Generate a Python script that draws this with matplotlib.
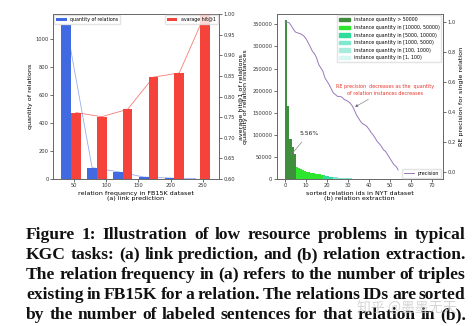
import numpy as np
import matplotlib
matplotlib.use("Agg")
import matplotlib.pyplot as plt
from matplotlib.patches import Patch

# ---------------- data ----------------
freq_groups = [46, 86, 126, 166, 206, 246]          # group centers (relation frequency)
relation_quantity = [1100, 81, 52, 14, 7, 3]
avg_hit1 = [0.761, 0.751, 0.769, 0.847, 0.857, 1.0]
freq_ticks = [50, 100, 150, 200, 250]

rel_counts = [360000, 165000, 90000, 72000, 56000,
              28000, 25000, 22500, 20500, 18500, 16800, 15200, 13800, 12600, 11800,
              11000, 10500, 10100,
              8000, 7000, 6200, 5500, 5100,
              4400, 3800, 3300, 2800, 2400, 2000, 1700, 1450, 1250, 1080,
              950, 850, 750, 650, 560, 480, 420, 360, 310, 270, 230, 200, 170, 150,
              130, 110, 95, 80, 60, 40, 20, 8]
precision = [1.0, 1.0, 0.995, 0.973, 0.95, 0.933, 0.928, 0.924, 0.917, 0.906,
             0.888, 0.861, 0.834, 0.805, 0.789, 0.76, 0.716, 0.694, 0.671, 0.626,
             0.604, 0.582, 0.553, 0.526, 0.515, 0.503, 0.503, 0.499, 0.485, 0.477,
             0.47, 0.459, 0.44, 0.414, 0.38, 0.358, 0.336, 0.32, 0.313, 0.302,
             0.284, 0.262, 0.246, 0.224, 0.201, 0.186, 0.168, 0.145, 0.134, 0.112,
             0.089, 0.067, 0.045, 0.034, 0.011]
bin_labels = ["instance quantity > 50000",
              "instance quantity in [10000, 50000)",
              "instance quantity in [5000, 10000)",
              "instance quantity in [1000, 5000)",
              "instance quantity in [100, 1000)",
              "instance quantity in [1, 100)"]
bin_lower = [50000, 10000, 5000, 1000, 100, 1]
bin_colors = ["#3e8e3e", "#2ee62e", "#2fdc9c", "#7fe8cf", "#a9ebdc", "#d6f7f2"]

caption_lines = [
    "Figure 1: Illustration of low resource problems in typical",
    "KGC tasks: (a) link prediction, and (b) relation extraction.",
    "The relation frequency in (a) refers to the number of triples",
    "existing in FB15K for a relation. The relations IDs are sorted",
    "by the number of labeled sentences for that relation in (b).",
]

W, H = 472, 326
fig = plt.figure(figsize=(W / 100, H / 100), dpi=100)

blue = "#4169e1"
red = "#f5433b"
spine_c = "#666666"
tick_fs = 3.7
lab_fs = 4.6
leg_fs = 3.4


def style(ax):
    for s in ax.spines.values():
        s.set_color(spine_c)
        s.set_linewidth(0.6)
    ax.tick_params(labelsize=tick_fs, length=2, width=0.5, pad=1.2, colors="#333333")


# ---------------- left panel ----------------
axL = fig.add_axes([53 / W, 1 - 179 / H, 166 / W, 165 / H])
axL2 = axL.twinx()
bw = 15
xg = np.array(freq_groups, dtype=float)
axL.bar(xg - bw / 2, relation_quantity, width=bw, color=blue, label="quantity of relations", zorder=2)
axL.plot(xg - bw / 2, relation_quantity, color=blue, lw=0.6, alpha=0.55, zorder=3)
axL2.bar(xg + bw / 2, avg_hit1, width=bw, color=red, label="avarage hit@1", zorder=2)
axL2.plot(xg + bw / 2, avg_hit1, color=red, lw=0.6, alpha=0.7, zorder=3)
axL.set_xlim(18, 275)
axL.set_ylim(0, 1176)
axL2.set_ylim(0.6, 1.0)
axL.set_xticks(freq_ticks)
axL.set_yticks([0, 200, 400, 600, 800, 1000])
axL2.set_yticks([0.6, 0.65, 0.7, 0.75, 0.8, 0.85, 0.9, 0.95, 1.0])
style(axL)
style(axL2)
axL.set_ylabel("quantity of relations", fontsize=lab_fs)
axL.yaxis.set_label_coords((33 - 53) / 166, 0.5)
axL2.set_ylabel("average hit@1 of relations", fontsize=lab_fs)
axL2.yaxis.set_label_coords((239.5 - 53) / 166, 0.5)
axL.set_xlabel("relation frequency in FB15K dataset\n(a) link prediction", fontsize=lab_fs,
               labelpad=1.5, linespacing=1.0)
axL.legend(loc="upper left", fontsize=leg_fs, frameon=True, handlelength=2.2,
           borderaxespad=0.3, edgecolor="#dddddd")
axL2.legend(loc="upper right", fontsize=leg_fs, frameon=True, handlelength=2.2,
            borderaxespad=0.3, edgecolor="#dddddd")

# ---------------- right panel ----------------
axR = fig.add_axes([276.7 / W, 1 - 179 / H, 166 / W, 165 / H])
axR2 = axR.twinx()
ids = np.arange(len(rel_counts))
cols = []
for c in rel_counts:
    for lo, col in zip(bin_lower, bin_colors):
        if c >= lo:
            cols.append(col)
            break
axR.bar(ids, rel_counts, width=1.0, align="edge", color=cols, linewidth=0, zorder=2)
axR.set_xlim(-4.1, 75.3)
axR.set_ylim(0, 373500)
axR.set_xticks([0, 10, 20, 30, 40, 50, 60, 70])
axR.set_yticks([0, 50000, 100000, 150000, 200000, 250000, 300000, 350000])
pid = np.arange(len(precision))
axR2.plot(pid, precision, color="#9a78b8", lw=0.7, label="precision")
axR2.set_ylim(-0.05, 1.055)
axR2.set_yticks([0.0, 0.2, 0.4, 0.6, 0.8, 1.0])
style(axR)
style(axR2)
axR.set_ylabel("quantity of relation instances", fontsize=lab_fs)
axR.yaxis.set_label_coords((248 - 276.7) / 166, 0.5)
axR2.set_ylabel("RE precision for single relation", fontsize=lab_fs)
axR2.yaxis.set_label_coords((459 - 276.7) / 166, 0.5)
axR.set_xlabel("sorted relation ids in NYT dataset\n(b) relation extraction", fontsize=lab_fs,
               labelpad=1.5, linespacing=1.0)
handles = [Patch(color=c, label=l) for c, l in zip(bin_colors, bin_labels)]
leg_bins = axR2.legend(handles=handles, loc="upper right", fontsize=leg_fs, frameon=True,
                       handlelength=2.2, borderaxespad=0.3, edgecolor="#dddddd",
                       labelspacing=0.55)
axR2.add_artist(leg_bins)
axR2.legend(loc="lower right", fontsize=leg_fs, frameon=True, handlelength=2.2,
            borderaxespad=0.3, edgecolor="#dddddd")

axR.annotate("5.56%", xy=(2.7, 54500), xytext=(11.4, 103000), fontsize=4.3, ha="center",
             va="center", color="#222222",
             arrowprops=dict(arrowstyle="-|>", fc="black", ec="#888888", lw=0.5,
                             mutation_scale=4, shrinkA=3, shrinkB=0), zorder=5)
axR2.annotate("RE precision  decreases as the  quantity\nof relation instances decreases",
              xy=(33.3, 0.432), xytext=(47.5, 0.545), fontsize=3.5, ha="center", va="center",
              color="#e8352d", linespacing=1.4,
              arrowprops=dict(arrowstyle="-|>", fc="black", ec="#888888", lw=0.5,
                              mutation_scale=4, shrinkA=1, shrinkB=0))

# ---------------- caption (justified) ----------------
renderer = fig.canvas.get_renderer()
x0, x1 = 26.0, 465.7
L = x1 - x0
cap_family = "Liberation Serif"
min_gap_em = 0.17
sizes = []
for line in caption_lines:
    words = line.split(" ")
    tot = 0.0
    for w in words:
        t = fig.text(0, 0, w, fontsize=10, fontweight="bold", family=cap_family)
        tot += t.get_window_extent(renderer).width
        t.remove()
    a = tot / 10.0
    sizes.append(L / (a + min_gap_em * 100 / 72 * (len(words) - 1)))
cap_fs = min(sizes)

baselines = [239.3, 259.3, 279.3, 299.3, 319.3]
for line, yb in zip(caption_lines, baselines):
    words = line.split(" ")
    texts = [fig.text(0, 1 - yb / H, w, fontsize=cap_fs, fontweight="bold",
                      family=cap_family, va="baseline", ha="left", color="#111111")
             for w in words]
    widths = [t.get_window_extent(renderer).width for t in texts]
    gap = (L - sum(widths)) / (len(words) - 1)
    x = x0
    for t, w in zip(texts, widths):
        t.set_x(x / W)
        x += w + gap

fig.text(357 / W, 1 - 313 / H, "知乎 @墨墨无天", fontsize=10, family=["Noto Sans CJK SC", "DejaVu Sans"],
         color="#c4c4c4", alpha=0.7, va="baseline", ha="left", zorder=10)

fig.savefig("out.png", dpi=100)
